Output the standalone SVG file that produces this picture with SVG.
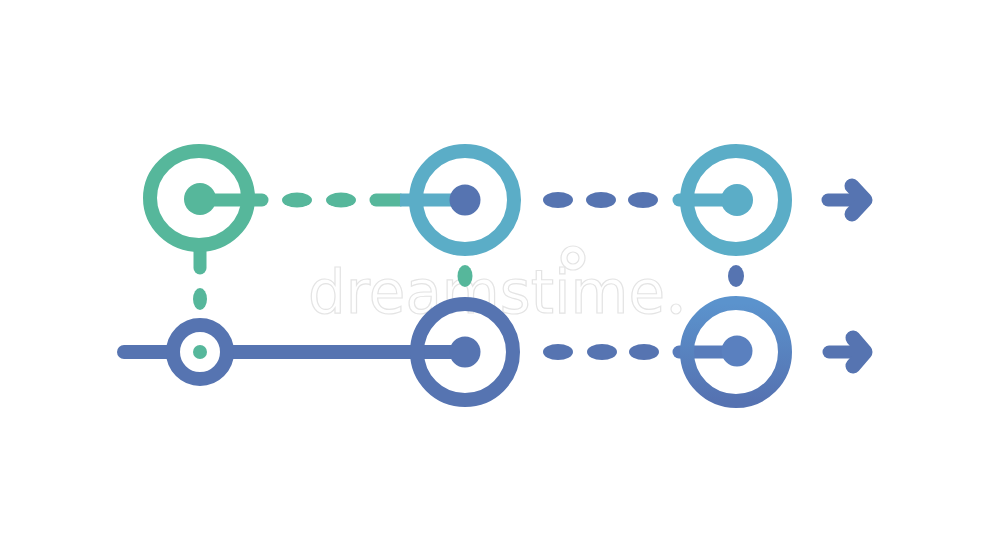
<svg xmlns="http://www.w3.org/2000/svg" width="992" height="558" viewBox="0 0 992 558">
  <defs>
    <linearGradient id="g6" x1="0" y1="0" x2="0" y2="1">
      <stop offset="0" stop-color="#5b93cd"/>
      <stop offset="1" stop-color="#5572b1"/>
    </linearGradient>
  </defs>
  <style>
    .ring { fill: none; stroke-width: 14; }
    .green { stroke: #56b79b; }
    .teal { stroke: #5badc7; }
    .blue { stroke: #5674b1; }
    .ln { fill: none; stroke-width: 13; stroke-linecap: round; }
    .fg { fill: #56b79b; }
    .ft { fill: #5badc7; }
    .fb { fill: #5674b1; }
    .wm { font-family: "DejaVu Sans", "Liberation Sans", sans-serif; font-size: 60px; fill: #ffffff; stroke: #e4e4e4; stroke-width: 1.2; }
    .head { fill: none; stroke: #5674b1; stroke-width: 15; stroke-linecap: round; stroke-linejoin: round; }
  </style>
  <rect width="992" height="558" fill="#ffffff"/>

  <g id="watermark">
    <text class="wm" x="308" y="313" textLength="357" lengthAdjust="spacingAndGlyphs">dreamstime</text>
    <circle cx="573" cy="258" r="12" fill="none" stroke="#e4e4e4" stroke-width="1.2"/>
    <circle cx="573" cy="258" r="6" fill="none" stroke="#e4e4e4" stroke-width="1.2"/>
    <circle cx="676" cy="309" r="5" fill="none" stroke="#e4e4e4" stroke-width="1.2"/>
  </g>

  <g id="connectors">
    <ellipse class="fg" cx="297" cy="200" rx="15" ry="7.5"/>
    <ellipse class="fg" cx="341" cy="200" rx="15" ry="7.5"/>
    <line class="ln green" x1="376" y1="200" x2="400" y2="200"/>
    <line x1="400" y1="200" x2="465" y2="200" stroke="#5badc7" stroke-width="13"/>
    <ellipse class="fb" cx="558" cy="200" rx="15" ry="8"/>
    <ellipse class="fb" cx="601" cy="200" rx="15" ry="8"/>
    <ellipse class="fb" cx="643" cy="200" rx="15" ry="8"/>
    <line class="ln teal" x1="679" y1="200" x2="737" y2="200"/>
    <line x1="200" y1="246" x2="200" y2="268" stroke="#56b79b" stroke-width="13" stroke-linecap="round"/>
    <ellipse class="fg" cx="200" cy="299" rx="7" ry="11"/>
    <ellipse class="fg" cx="465" cy="276" rx="7.5" ry="11"/>
    <ellipse class="fb" cx="736" cy="276" rx="8" ry="11"/>
    <line x1="124" y1="352" x2="465" y2="352" stroke="#5674b1" stroke-width="14" stroke-linecap="round"/>
    <ellipse class="fb" cx="558" cy="352" rx="15" ry="8"/>
    <ellipse class="fb" cx="602" cy="352" rx="15" ry="8"/>
    <ellipse class="fb" cx="644" cy="352" rx="15" ry="8"/>
    <line x1="679" y1="352" x2="737" y2="352" stroke="#587cbb" stroke-width="13" stroke-linecap="round"/>
  </g>

  <g id="node1">
    <ellipse class="ring green" cx="199" cy="198" rx="49" ry="47"/>
    <line class="ln green" x1="200" y1="200" x2="262" y2="200"/>
    <circle class="fg" cx="200" cy="199" r="16"/>
  </g>

  <g id="node2">
    <circle class="ring teal" cx="465" cy="200" r="49"/>
    <circle class="fb" cx="465" cy="200" r="15.5"/>
  </g>

  <g id="node3">
    <circle class="ring teal" cx="736" cy="200" r="49"/>
    <circle class="ft" cx="737" cy="200" r="16"/>
  </g>

  <g id="node4">
    <circle class="ring blue" cx="200" cy="352" r="27" stroke-width="13" style="fill:#ffffff"/>
    <circle class="fg" cx="200" cy="352" r="7"/>
  </g>

  <g id="node5">
    <circle class="ring blue" cx="465" cy="352" r="48"/>
    <circle class="fb" cx="465" cy="352" r="15.5"/>
  </g>

  <g id="node6">
    <circle cx="736" cy="352" r="49" fill="none" stroke="url(#g6)" stroke-width="14"/>
    <circle cx="737" cy="351" r="15.5" fill="#5a80bf"/>
  </g>

  <g id="arrow1">
    <line class="ln blue" x1="828" y1="200" x2="862" y2="200" stroke-width="14"/>
    <polyline class="head" points="852,186 865,200 852,214"/>
  </g>

  <g id="arrow2">
    <line class="ln blue" x1="829" y1="352" x2="862" y2="352" stroke-width="14"/>
    <polyline class="head" points="853,338 865,352 853,366"/>
  </g>
</svg>
